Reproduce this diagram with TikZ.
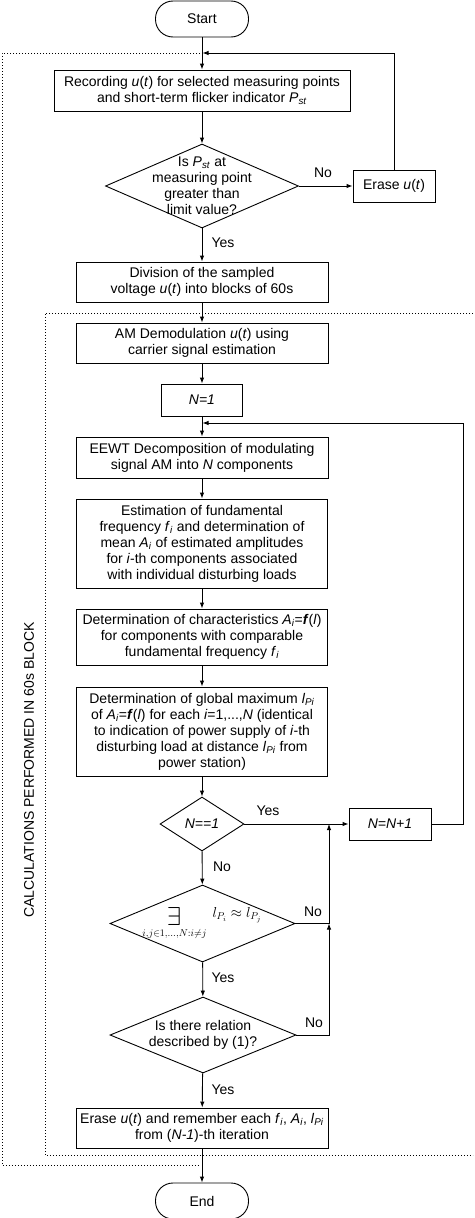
\documentclass[tikz,border=0pt]{standalone}
\usepackage{fontspec}
\setmainfont{Liberation Sans}
\usepackage{graphicx}
\usetikzlibrary{arrows.meta,shapes.geometric}
\newcommand{\ssub}[2]{\textit{#1}\textsubscript{\textit{#2}}}
\newcommand{\ut}{\textit{u}(\textit{t})}
\begin{document}
\begin{tikzpicture}[x=1pt,y=-1pt, line width=0.9pt, font=\fontsize{14}{16}\selectfont,
  box/.style={draw, inner sep=0pt, align=center},
  term/.style={draw, inner sep=0pt, rounded corners=17.5pt, minimum width=93pt, minimum height=36pt},
  dia/.style={draw, shape=diamond, inner sep=0pt},
  txt/.style={inner sep=0pt, align=center},
  arr/.style={-{Latex[length=6pt,width=4.5pt]}},
  dots/.style={line width=0.8pt, dash pattern=on 0.9pt off 2.1pt}]
\useasboundingbox (0,0) rectangle (474,1218);
% dotted frames
\draw[dots] (200,53) -- (2,53) -- (2,1165) -- (200,1165);
\draw[dots] (473,313) -- (45,313) -- (45,1155) -- (473,1155);
\node[rotate=90, txt] (vt) at (29,770) {CALCULATIONS PERFORMED IN 60s BLOCK};
% nodes
\node[term] (start) at (202,19) {Start};
\node[box, minimum width=296pt, minimum height=41pt] (rec) at (202,90.5) {Recording \ut{} for selected measuring points\\and short-term flicker indicator \ssub{P}{st}};
\node[dia, minimum width=193pt, minimum height=84pt] (d1) at (202,186) {};
\node[txt] (d1t) at (d1.center) {Is \ssub{P}{st} at\\measuring point\\greater than\\limit value?};
\node[box, minimum width=82pt, minimum height=32pt] (er1) at (394,186) {Erase \ut};
\node[box, minimum width=252pt, minimum height=40pt] (div) at (202,282) {Division of the sampled\\voltage \ut{} into blocks of 60s};
\node[box, minimum width=252pt, minimum height=40pt] (am) at (202,343) {AM Demodulation \ut{} using\\carrier signal estimation};
\node[box, minimum width=81pt, minimum height=32pt] (n1) at (202,400) {\textit{N=1}};
\node[box, minimum width=252pt, minimum height=41pt] (eewt) at (202,457.5) {EEWT Decomposition of modulating\\signal AM into \textit{N} components};
\node[box, minimum width=251pt, minimum height=89pt] (est) at (202,543.5) {Estimation of fundamental\\frequency \ssub{f}{i} and determination of\\mean \ssub{A}{i} of estimated amplitudes\\for \textit{i}-th components associated\\with individual disturbing loads};
\node[box, minimum width=251pt, minimum height=56pt] (char) at (202,637) {Determination of characteristics \ssub{A}{i}=\textbf{\textit{f}}(\textit{l})\\for components with comparable\\fundamental frequency \ssub{f}{i}};
\node[box, minimum width=251pt, minimum height=89pt] (glob) at (202,731.5) {Determination of global maximum \ssub{l}{Pi}\\of \ssub{A}{i}=\textbf{\textit{f}}(\textit{l}) for each \textit{i}=1,...,\textit{N} (identical\\to indication of power supply of \textit{i}-th\\disturbing load at distance \ssub{l}{Pi} from\\power station)};
\node[dia, minimum width=84pt, minimum height=54pt] (d2) at (202,824) {\textit{N==1}};
\node[box, minimum width=82pt, minimum height=32pt] (nn1) at (390,824) {\textit{N=N+1}};
\node[dia, minimum width=185pt, minimum height=77pt] (d3) at (202.5,923.5) {};
\node[txt] (ex) at (174,916) {\scalebox{1.8}{$\exists$}};
\node[txt] (exs) at (174.5,934) {$\scriptstyle i,j\in 1,\ldots,N:i\neq j$};
\node[txt] (lp) at (237,915) {$l_{P_i}\approx l_{P_j}$};
\node[dia, minimum width=186pt, minimum height=76pt] (d4) at (203,1035) {};
\node[txt] (d4t) at (d4.center) {Is there relation\\described by (1)?};
\node[box, minimum width=252pt, minimum height=40pt] (fin) at (202,1128) {Erase \ut{} and remember each \ssub{f}{i}, \ssub{A}{i}, \ssub{l}{Pi}\\from (\textit{N-1})-th iteration};
\node[term] (end) at (202,1201) {End};
% junction coordinates
\coordinate (j1) at (202.5,53);
\coordinate (j2) at (202.5,423);
\coordinate (j3) at (329,824);
\coordinate (j4) at (329,923.5);
% connectors
\draw[arr] (start) -- (rec);
\draw[arr] (rec) -- (d1);
\draw[arr] (d1) -- (er1);
\draw[arr] (er1.north) |- (j1);
\draw[arr] (d1) -- (div);
\draw[arr] (div) -- (am);
\draw[arr] (am) -- (n1);
\draw[arr] (n1) -- (eewt);
\draw[arr] (eewt) -- (est);
\draw[arr] (est) -- (char);
\draw[arr] (char) -- (glob);
\draw[arr] (glob) -- (d2);
\draw[arr] (d2) -- (nn1);
\draw[arr] (nn1.east) -- (463,824) |- (j2);
\draw[arr] (d2) -- (d3);
\draw[arr] (d3) -- (d4);
\draw[arr] (d3.east) -| (j3);
\draw[arr] (d4.east) -| (j4);
\draw[arr] (d4) -- (fin);
\draw[arr] (fin) -- (end);
% labels
\node[txt] (l1) at (323,173) {No};
\node[txt] (l2) at (223,243) {Yes};
\node[txt] (l3) at (268,811) {Yes};
\node[txt] (l4) at (222,867) {No};
\node[txt] (l5) at (313,912) {No};
\node[txt] (l6) at (223,978) {Yes};
\node[txt] (l7) at (314,1023) {No};
\node[txt] (l8) at (223,1090) {Yes};
\end{tikzpicture}
\end{document}
